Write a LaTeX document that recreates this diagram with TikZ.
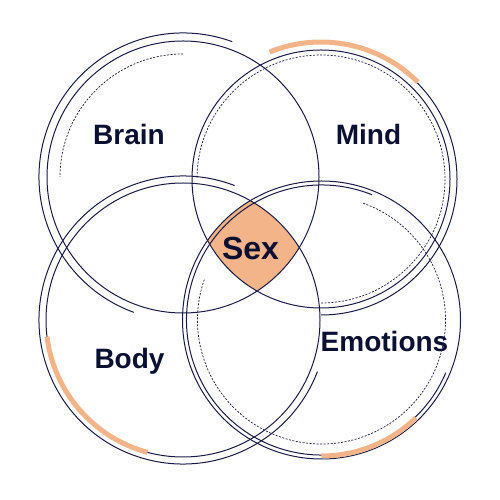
\documentclass[tikz,border=0pt]{standalone}
\usepackage{fontspec}
\setmainfont{Liberation Sans}
\definecolor{navy}{RGB}{24,27,70}
\definecolor{ink}{RGB}{10,16,50}
\definecolor{peach}{RGB}{242,180,136}
\begin{document}
\begin{tikzpicture}[x=1pt,y=1pt,
  ring/.style={draw=navy, line width=1pt},
  ringarc/.style={draw=navy, line width=1pt},
  dotarc/.style={draw=navy, line width=0.7pt, dash pattern=on 2pt off 1.5pt},
  accent/.style={draw=peach, line width=5pt},
  label/.style={text=ink, font=\fontsize{28}{28}\selectfont\bfseries, inner sep=0pt, anchor=base}]
\useasboundingbox (0,0) rectangle (500,500);
\coordinate (B) at (183,323);
\coordinate (M) at (321,321);
\coordinate (Y) at (183,180);
\coordinate (E) at (321.5,180);
% central overlap
\begin{scope}
\clip (B) circle[radius=136];
\clip (M) circle[radius=129];
\clip (Y) circle[radius=137];
\fill[peach] (E) circle[radius=139];
\end{scope}
% Brain
\draw[ring] (B) circle[radius=136];
\draw[ringarc] (B) ++(70:144) arc[start angle=70, end angle=250, radius=144];
\draw[dotarc] (B) ++(90:123) arc[start angle=90, end angle=180, radius=123];
% Mind
\draw[ring] (M) circle[radius=129];
\draw[ringarc] (M) ++(-90:136) arc[start angle=-90, end angle=45, radius=136];
\draw[accent] (M) ++(45:137) arc[start angle=45, end angle=112, radius=137];
\draw[dotarc] (M) ++(-90:124) arc[start angle=-90, end angle=180, radius=124];
% Body
\draw[ring] (Y) circle[radius=137];
\draw[ringarc] (Y) ++(69:144) arc[start angle=69, end angle=339, radius=144];
\draw[accent] (Y) ++(187:137) arc[start angle=187, end angle=255, radius=137];
% Emotions
\draw[ring] (E) circle[radius=139];
\draw[ringarc] (E) ++(68:135) arc[start angle=68, end angle=337, radius=135];
\draw[accent] (E) ++(270:136) arc[start angle=270, end angle=314, radius=136];
\draw[dotarc] (E) ++(161:124) arc[start angle=161, end angle=431, radius=124];
% labels
\node[label] (brain) at (129,355) {Brain};
\node[label] (mind) at (368.5,355) {Mind};
\node[label] (body) at (129.5,131) {Body};
\node[label] (emotions) at (384.5,148) {Emotions};
\node[label, font=\fontsize{32}{32}\selectfont\bfseries] (sex) at (250.5,240) {Sex};
\end{tikzpicture}
\end{document}
